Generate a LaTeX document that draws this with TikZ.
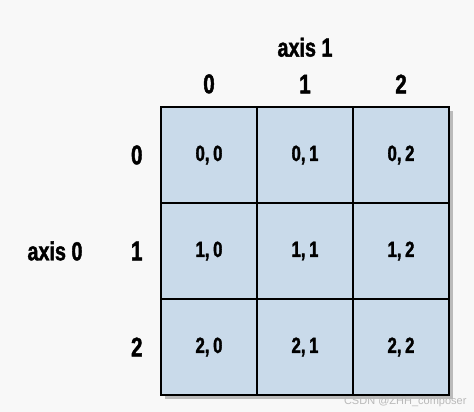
\documentclass[tikz,border=0pt]{standalone}
\usepackage{fontspec}
\newfontfamily\figfont{Liberation Sans Bold}[FakeStretch=0.76, FakeBold=1.6]
\newfontfamily\markfont{Liberation Sans}
\usetikzlibrary{positioning, fit, shadows, backgrounds}
\definecolor{cellcolor}{RGB}{201, 218, 234}
\definecolor{pagecolor}{RGB}{248, 248, 248}

\begin{document}
\begin{tikzpicture}[
    x=1pt, y=1pt,
    cell/.style={draw, line width=2pt, fill=cellcolor, minimum size=96pt,
                 inner sep=0pt, outer sep=0pt, font=\figfont\fontsize{22}{24}\selectfont},
    idx/.style={font=\figfont\fontsize{27}{28}\selectfont},
    axislabel/.style={font=\figfont\fontsize{26}{28}\selectfont}
]
\useasboundingbox (0,0) rectangle (474,412);
% Cells
\foreach \r in {0,1,2}
  \foreach \c in {0,1,2}
    \node[cell] (c\r\c) at (209+96*\c, 257-96*\r) {\r,\,\c};
% Page and shadow behind the grid
\begin{scope}[on background layer]
\fill[pagecolor] (0,0) rectangle (474,412);
\node[fit=(c00)(c22), inner sep=0pt, fill=cellcolor,
      drop shadow={shadow xshift=4pt, shadow yshift=-4pt, opacity=0.5}] (grid) {};
\end{scope}
% Column indices
\foreach \c in {0,1,2}
  \node[idx, above=10pt of c0\c] (col\c) {\c};
% Row indices
\foreach \r in {0,1,2}
  \node[idx, left=15pt of c\r0] (row\r) {\r};
% Axis labels
\node[axislabel, above=11pt of col1] (axis1) {axis 1};
\node[axislabel] (axis0) at (55, 161) {axis 0};
% Watermark
\node[font=\markfont\fontsize{11}{12}\selectfont, text=gray!55, anchor=south east] (mark) at (470, 2) {CSDN @ZHH\_composer};
\end{tikzpicture}
\end{document}
